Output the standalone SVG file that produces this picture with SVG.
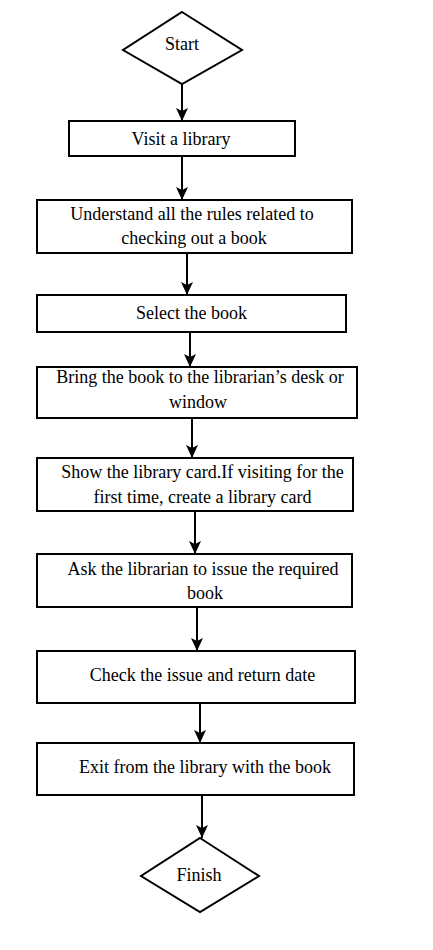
<svg xmlns="http://www.w3.org/2000/svg" width="433" height="950" viewBox="0 0 433 950">
<style>
.shape{fill:#fff;stroke:#000;stroke-width:2}
.lbl{font-family:"Liberation Serif","Times New Roman",serif;font-size:18px;fill:#000;text-anchor:middle}
.conn{stroke:#000;stroke-width:2;fill:none;marker-end:url(#arr)}
</style>
<defs>
<marker id="arr" viewBox="0 0 14 14" refX="13" refY="7" markerWidth="14" markerHeight="14" markerUnits="userSpaceOnUse" orient="auto">
<path d="M0,1 L13,7 L0,13 L3,7 Z" fill="#000"/>
</marker>
</defs>
<rect width="433" height="950" fill="#fff"/>
<g id="connectors">
<line class="conn" x1="182" y1="84" x2="182" y2="121"/>
<line class="conn" x1="182" y1="156" x2="182" y2="200"/>
<line class="conn" x1="187" y1="253" x2="187" y2="295"/>
<line class="conn" x1="190" y1="332" x2="190" y2="367"/>
<line class="conn" x1="192" y1="418" x2="192" y2="458"/>
<line class="conn" x1="195" y1="511" x2="195" y2="554"/>
<line class="conn" x1="197" y1="607" x2="197" y2="651"/>
<line class="conn" x1="200" y1="703" x2="200" y2="743"/>
<line class="conn" x1="202" y1="795" x2="202" y2="838"/>
</g>
<g id="start">
<polygon class="shape" points="182,12 242,50 182,84 123,50"/>
<text class="lbl" x="182" y="50">Start</text>
</g>
<g id="visit">
<rect class="shape" x="69" y="121" width="226" height="35"/>
<text class="lbl" x="181" y="145">Visit a library</text>
</g>
<g id="understand">
<rect class="shape" x="37" y="200" width="315" height="53"/>
<text class="lbl" x="192" y="220">Understand all the rules related to</text>
<text class="lbl" x="194" y="244">checking out a book</text>
</g>
<g id="select">
<rect class="shape" x="37" y="295" width="309" height="37"/>
<text class="lbl" x="191.5" y="319">Select the book</text>
</g>
<g id="bring">
<rect class="shape" x="37" y="367" width="320" height="51"/>
<text class="lbl" x="200" y="383">Bring the book to the librarian’s desk or</text>
<text class="lbl" x="198" y="408">window</text>
</g>
<g id="show">
<rect class="shape" x="37" y="458" width="316" height="53"/>
<text class="lbl" x="202.5" y="478">Show the library card.If visiting for the</text>
<text class="lbl" x="202.5" y="503">first time, create a library card</text>
</g>
<g id="ask">
<rect class="shape" x="37" y="554" width="315" height="53"/>
<text class="lbl" x="203" y="575">Ask the librarian to issue the required</text>
<text class="lbl" x="205" y="599">book</text>
</g>
<g id="check">
<rect class="shape" x="37" y="651" width="318" height="52"/>
<text class="lbl" x="202.5" y="681">Check the issue and return date</text>
</g>
<g id="exit">
<rect class="shape" x="37" y="743" width="317" height="52"/>
<text class="lbl" x="205" y="773">Exit from the library with the book</text>
</g>
<g id="finish">
<polygon class="shape" points="200,838 259,876 200,912 141,876"/>
<text class="lbl" x="199" y="881">Finish</text>
</g>
</svg>
